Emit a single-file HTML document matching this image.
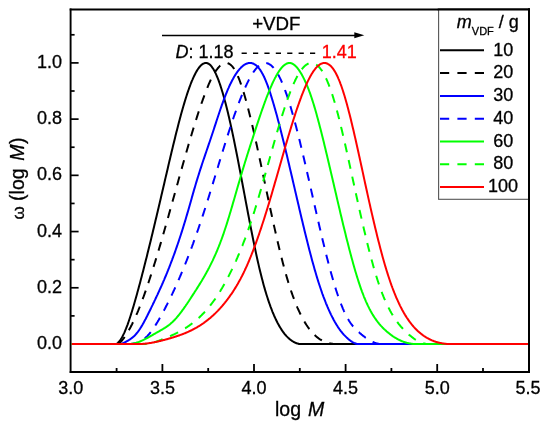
<!DOCTYPE html>
<html><head><meta charset="utf-8"><style>
html,body{margin:0;padding:0;background:#fff;}
body{width:550px;height:429px;overflow:hidden;}
svg{display:block;}
text{font-family:"Liberation Sans", Arial, "DejaVu Sans", sans-serif;fill:#000;stroke:#000;stroke-width:0.3px;}
</style></head><body>
<svg width="550" height="429" viewBox="0 0 550 429">
<rect x="0" y="0" width="550" height="429" fill="#fff"/>

<g stroke="#000" fill="none">
<line x1="70.6" y1="8.6" x2="70.6" y2="373" stroke-width="1.9"/>
<line x1="69.7" y1="9.5" x2="530" y2="9.5" stroke-width="1.9"/>
<line x1="529" y1="8.6" x2="529" y2="373" stroke-width="2"/>
<line x1="69.7" y1="372" x2="530" y2="372" stroke-width="2"/>
<line x1="70.6" y1="344.00" x2="78.6" y2="344.00" stroke-width="1.7"/>
<line x1="70.6" y1="315.89" x2="74.6" y2="315.89" stroke-width="1.7"/>
<line x1="70.6" y1="287.78" x2="78.6" y2="287.78" stroke-width="1.7"/>
<line x1="70.6" y1="259.67" x2="74.6" y2="259.67" stroke-width="1.7"/>
<line x1="70.6" y1="231.56" x2="78.6" y2="231.56" stroke-width="1.7"/>
<line x1="70.6" y1="203.45" x2="74.6" y2="203.45" stroke-width="1.7"/>
<line x1="70.6" y1="175.34" x2="78.6" y2="175.34" stroke-width="1.7"/>
<line x1="70.6" y1="147.23" x2="74.6" y2="147.23" stroke-width="1.7"/>
<line x1="70.6" y1="119.12" x2="78.6" y2="119.12" stroke-width="1.7"/>
<line x1="70.6" y1="91.01" x2="74.6" y2="91.01" stroke-width="1.7"/>
<line x1="70.6" y1="62.90" x2="78.6" y2="62.90" stroke-width="1.7"/>
<line x1="70.6" y1="34.79" x2="74.6" y2="34.79" stroke-width="1.7"/>
<line x1="116.60" y1="372" x2="116.60" y2="368" stroke-width="1.8"/>
<line x1="162.40" y1="372" x2="162.40" y2="364" stroke-width="1.8"/>
<line x1="208.20" y1="372" x2="208.20" y2="368" stroke-width="1.8"/>
<line x1="254.00" y1="372" x2="254.00" y2="364" stroke-width="1.8"/>
<line x1="299.80" y1="372" x2="299.80" y2="368" stroke-width="1.8"/>
<line x1="345.60" y1="372" x2="345.60" y2="364" stroke-width="1.8"/>
<line x1="391.40" y1="372" x2="391.40" y2="368" stroke-width="1.8"/>
<line x1="437.20" y1="372" x2="437.20" y2="364" stroke-width="1.8"/>
<line x1="483.00" y1="372" x2="483.00" y2="368" stroke-width="1.8"/>
</g>
<path d="M71.6,344.0 L116.2,344.0 L117.0,343.6 L117.5,343.2 L118.0,342.8 L118.5,342.3 L119.0,341.7 L119.5,341.1 L120.0,340.5 L120.5,339.8 L121.0,339.0 L121.5,338.2 L122.0,337.3 L122.5,336.4 L123.0,335.4 L123.5,334.4 L124.0,333.4 L124.5,332.3 L125.0,331.1 L125.5,329.9 L126.0,328.7 L126.5,327.4 L127.0,326.1 L127.5,324.8 L128.0,323.4 L128.5,322.0 L129.0,320.5 L129.5,319.0 L130.0,317.5 L130.5,316.0 L131.0,314.4 L131.5,312.8 L132.0,311.2 L132.5,309.5 L133.0,307.9 L133.5,306.2 L134.0,304.5 L134.5,302.8 L135.0,301.0 L135.5,299.3 L136.0,297.5 L136.5,295.7 L137.0,293.9 L137.5,292.1 L138.0,290.3 L138.5,288.4 L139.0,286.6 L139.5,284.7 L140.0,282.9 L140.5,281.0 L141.0,279.1 L141.5,277.2 L142.0,275.3 L142.5,273.3 L143.0,271.4 L143.5,269.5 L144.0,267.5 L144.5,265.6 L145.0,263.6 L145.5,261.6 L146.0,259.6 L146.5,257.7 L147.0,255.7 L147.5,253.6 L148.0,251.6 L148.5,249.6 L149.0,247.6 L149.5,245.5 L150.0,243.5 L150.5,241.4 L151.0,239.4 L151.5,237.3 L152.0,235.3 L152.5,233.2 L153.0,231.1 L153.5,229.0 L154.0,226.9 L154.5,224.8 L155.0,222.7 L155.5,220.6 L156.0,218.5 L156.5,216.4 L157.0,214.3 L157.5,212.2 L158.0,210.0 L158.5,207.9 L159.0,205.8 L159.5,203.7 L160.0,201.5 L160.5,199.4 L161.0,197.2 L161.5,195.1 L162.0,193.0 L162.5,190.8 L163.0,188.7 L163.5,186.5 L164.0,184.4 L164.5,182.2 L165.0,180.1 L165.5,177.9 L166.0,175.8 L166.5,173.7 L167.0,171.5 L167.5,169.4 L168.0,167.2 L168.5,165.1 L169.0,162.9 L169.5,160.8 L170.0,158.7 L170.5,156.6 L171.0,154.5 L171.5,152.3 L172.0,150.2 L172.5,148.2 L173.0,146.1 L173.5,144.0 L174.0,141.9 L174.5,139.9 L175.0,137.9 L175.5,135.8 L176.0,133.8 L176.5,131.8 L177.0,129.9 L177.5,127.9 L178.0,125.9 L178.5,124.0 L179.0,122.1 L179.5,120.2 L180.0,118.3 L180.5,116.5 L181.0,114.6 L181.5,112.8 L182.0,111.0 L182.5,109.2 L183.0,107.5 L183.5,105.8 L184.0,104.1 L184.5,102.4 L185.0,100.7 L185.5,99.1 L186.0,97.5 L186.5,96.0 L187.0,94.4 L187.5,92.9 L188.0,91.4 L188.5,90.0 L189.0,88.6 L189.5,87.2 L190.0,85.8 L190.5,84.5 L191.0,83.2 L191.5,82.0 L192.0,80.7 L192.5,79.6 L193.0,78.4 L193.5,77.3 L194.0,76.2 L194.5,75.2 L195.0,74.2 L195.5,73.2 L196.0,72.3 L196.5,71.4 L197.0,70.6 L197.5,69.8 L198.0,69.0 L198.5,68.3 L199.0,67.6 L199.5,67.0 L200.0,66.4 L200.5,65.8 L201.0,65.4 L201.5,64.9 L202.0,64.5 L202.5,64.1 L203.0,63.8 L203.5,63.6 L204.0,63.4 L204.5,63.2 L205.0,63.1 L205.5,63.0 L206.0,63.0 L206.5,63.0 L207.0,63.1 L207.5,63.3 L208.0,63.5 L208.5,63.7 L209.0,64.0 L209.5,64.4 L210.0,64.8 L210.5,65.3 L211.0,65.8 L211.5,66.4 L212.0,67.1 L212.5,67.8 L213.0,68.5 L213.5,69.3 L214.0,70.2 L214.5,71.1 L215.0,72.1 L215.5,73.1 L216.0,74.2 L216.5,75.3 L217.0,76.5 L217.5,77.7 L218.0,78.9 L218.5,80.2 L219.0,81.6 L219.5,83.0 L220.0,84.4 L220.5,85.9 L221.0,87.5 L221.5,89.0 L222.0,90.7 L222.5,92.3 L223.0,94.0 L223.5,95.8 L224.0,97.5 L224.5,99.4 L225.0,101.2 L225.5,103.1 L226.0,105.0 L226.5,107.0 L227.0,109.0 L227.5,111.0 L228.0,113.1 L228.5,115.2 L229.0,117.3 L229.5,119.5 L230.0,121.7 L230.5,123.9 L231.0,126.2 L231.5,128.5 L232.0,130.8 L232.5,133.1 L233.0,135.5 L233.5,137.9 L234.0,140.3 L234.5,142.8 L235.0,145.2 L235.5,147.7 L236.0,150.2 L236.5,152.7 L237.0,155.3 L237.5,157.8 L238.0,160.4 L238.5,163.0 L239.0,165.6 L239.5,168.2 L240.0,170.8 L240.5,173.4 L241.0,176.1 L241.5,178.7 L242.0,181.4 L242.5,184.0 L243.0,186.7 L243.5,189.3 L244.0,192.0 L244.5,194.6 L245.0,197.3 L245.5,200.0 L246.0,202.6 L246.5,205.3 L247.0,207.9 L247.5,210.5 L248.0,213.2 L248.5,215.8 L249.0,218.4 L249.5,221.0 L250.0,223.6 L250.5,226.1 L251.0,228.7 L251.5,231.2 L252.0,233.8 L252.5,236.3 L253.0,238.7 L253.5,241.2 L254.0,243.6 L254.5,246.1 L255.0,248.4 L255.5,250.8 L256.0,253.1 L256.5,255.5 L257.0,257.7 L257.5,260.0 L258.0,262.2 L258.5,264.4 L259.0,266.6 L259.5,268.7 L260.0,270.8 L260.5,272.8 L261.0,274.8 L261.5,276.8 L262.0,278.7 L262.5,280.6 L263.0,282.5 L263.5,284.4 L264.0,286.2 L264.5,287.9 L265.0,289.7 L265.5,291.4 L266.0,293.0 L266.5,294.7 L267.0,296.3 L267.5,297.8 L268.0,299.4 L268.5,300.9 L269.0,302.3 L269.5,303.8 L270.0,305.2 L270.5,306.6 L271.0,307.9 L271.5,309.2 L272.0,310.5 L272.5,311.8 L273.0,313.0 L273.5,314.2 L274.0,315.4 L274.5,316.5 L275.0,317.6 L275.5,318.7 L276.0,319.8 L276.5,320.8 L277.0,321.8 L277.5,322.8 L278.0,323.7 L278.5,324.6 L279.0,325.5 L279.5,326.4 L280.0,327.2 L280.5,328.0 L281.0,328.8 L281.5,329.6 L282.0,330.4 L282.5,331.1 L283.0,331.8 L283.5,332.5 L284.0,333.1 L284.5,333.8 L285.0,334.4 L285.5,335.0 L286.0,335.5 L286.5,336.1 L287.0,336.6 L287.5,337.1 L288.0,337.6 L288.5,338.1 L289.0,338.5 L289.5,339.0 L290.0,339.4 L290.5,339.8 L291.0,340.2 L291.5,340.5 L292.0,340.9 L292.5,341.2 L293.0,341.5 L293.5,341.8 L294.0,342.1 L294.5,342.3 L295.0,342.6 L295.5,342.8 L296.0,343.0 L296.5,343.2 L297.0,343.4 L297.5,343.5 L298.0,343.6 L298.5,343.8 L298.8,344.0 L528.0,344.0" fill="none" stroke="#000" stroke-width="2" stroke-linejoin="round"/>
<path d="M71.6,344.0 L118.5,344.0 L119.0,343.6 L119.5,343.1 L120.0,342.6 L120.5,342.1 L121.0,341.6 L121.5,341.0 L122.0,340.4 L122.5,339.8 L123.0,339.2 L123.5,338.6 L124.0,337.9 L124.5,337.2 L125.0,336.5 L125.5,335.8 L126.0,335.0 L126.5,334.2 L127.0,333.4 L127.5,332.6 L128.0,331.8 L128.5,330.9 L129.0,330.0 L129.5,329.1 L130.0,328.2 L130.5,327.3 L131.0,326.3 L131.5,325.3 L132.0,324.4 L132.5,323.3 L133.0,322.3 L133.5,321.3 L134.0,320.2 L134.5,319.1 L135.0,318.0 L135.5,316.9 L136.0,315.8 L136.5,314.6 L137.0,313.4 L137.5,312.3 L138.0,311.1 L138.5,309.8 L139.0,308.6 L139.5,307.4 L140.0,306.1 L140.5,304.8 L141.0,303.5 L141.5,302.2 L142.0,300.9 L142.5,299.6 L143.0,298.2 L143.5,296.9 L144.0,295.5 L144.5,294.1 L145.0,292.7 L145.5,291.3 L146.0,289.8 L146.5,288.4 L147.0,286.9 L147.5,285.5 L148.0,284.0 L148.5,282.5 L149.0,281.0 L149.5,279.5 L150.0,278.0 L150.5,276.4 L151.0,274.9 L151.5,273.3 L152.0,271.8 L152.5,270.2 L153.0,268.6 L153.5,267.0 L154.0,265.4 L154.5,263.8 L155.0,262.2 L155.5,260.6 L156.0,258.9 L156.5,257.3 L157.0,255.6 L157.5,254.0 L158.0,252.3 L158.5,250.6 L159.0,249.0 L159.5,247.3 L160.0,245.6 L160.5,243.9 L161.0,242.2 L161.5,240.4 L162.0,238.7 L162.5,237.0 L163.0,235.3 L163.5,233.5 L164.0,231.8 L164.5,230.0 L165.0,228.3 L165.5,226.5 L166.0,224.8 L166.5,223.0 L167.0,221.2 L167.5,219.5 L168.0,217.7 L168.5,215.9 L169.0,214.1 L169.5,212.4 L170.0,210.6 L170.5,208.8 L171.0,207.0 L171.5,205.2 L172.0,203.4 L172.5,201.6 L173.0,199.8 L173.5,198.0 L174.0,196.2 L174.5,194.4 L175.0,192.6 L175.5,190.8 L176.0,189.0 L176.5,187.3 L177.0,185.5 L177.5,183.7 L178.0,181.9 L178.5,180.1 L179.0,178.3 L179.5,176.5 L180.0,174.7 L180.5,172.9 L181.0,171.1 L181.5,169.4 L182.0,167.6 L182.5,165.8 L183.0,164.0 L183.5,162.3 L184.0,160.5 L184.5,158.7 L185.0,157.0 L185.5,155.2 L186.0,153.5 L186.5,151.7 L187.0,150.0 L187.5,148.3 L188.0,146.6 L188.5,144.8 L189.0,143.1 L189.5,141.4 L190.0,139.7 L190.5,138.0 L191.0,136.4 L191.5,134.7 L192.0,133.0 L192.5,131.4 L193.0,129.7 L193.5,128.1 L194.0,126.5 L194.5,124.9 L195.0,123.2 L195.5,121.7 L196.0,120.1 L196.5,118.5 L197.0,116.9 L197.5,115.4 L198.0,113.8 L198.5,112.3 L199.0,110.8 L199.5,109.3 L200.0,107.8 L200.5,106.3 L201.0,104.9 L201.5,103.4 L202.0,102.0 L202.5,100.6 L203.0,99.2 L203.5,97.8 L204.0,96.4 L204.5,95.1 L205.0,93.8 L205.5,92.4 L206.0,91.1 L206.5,89.8 L207.0,88.6 L207.5,87.3 L208.0,86.1 L208.5,84.9 L209.0,83.7 L209.5,82.6 L210.0,81.5 L210.5,80.4 L211.0,79.3 L211.5,78.3 L212.0,77.3 L212.5,76.4 L213.0,75.5 L213.5,74.6 L214.0,73.7 L214.5,72.9 L215.0,72.1 L215.5,71.3 L216.0,70.6 L216.5,69.9 L217.0,69.3 L217.5,68.6 L218.0,68.0 L218.5,67.5 L219.0,66.9 L219.5,66.4 L220.0,65.9 L220.5,65.5 L221.0,65.1 L221.5,64.7 L222.0,64.4 L222.5,64.1 L223.0,63.8 L223.5,63.6 L224.0,63.4 L224.5,63.2 L225.0,63.1 L225.5,63.0 L226.0,63.0 L226.5,63.0 L227.0,63.1 L227.5,63.1 L228.0,63.3 L228.5,63.5 L229.0,63.7 L229.5,64.0 L230.0,64.3 L230.5,64.7 L231.0,65.1 L231.5,65.6 L232.0,66.1 L232.5,66.7 L233.0,67.3 L233.5,68.0 L234.0,68.7 L234.5,69.5 L235.0,70.4 L235.5,71.3 L236.0,72.2 L236.5,73.2 L237.0,74.3 L237.5,75.4 L238.0,76.5 L238.5,77.7 L239.0,78.9 L239.5,80.2 L240.0,81.5 L240.5,82.9 L241.0,84.3 L241.5,85.8 L242.0,87.3 L242.5,88.8 L243.0,90.4 L243.5,92.0 L244.0,93.6 L244.5,95.3 L245.0,97.0 L245.5,98.8 L246.0,100.5 L246.5,102.4 L247.0,104.2 L247.5,106.1 L248.0,108.0 L248.5,109.9 L249.0,111.9 L249.5,113.9 L250.0,115.9 L250.5,117.9 L251.0,120.0 L251.5,122.1 L252.0,124.2 L252.5,126.3 L253.0,128.4 L253.5,130.6 L254.0,132.8 L254.5,135.0 L255.0,137.2 L255.5,139.5 L256.0,141.7 L256.5,144.0 L257.0,146.3 L257.5,148.6 L258.0,150.9 L258.5,153.2 L259.0,155.5 L259.5,157.8 L260.0,160.2 L260.5,162.5 L261.0,164.9 L261.5,167.2 L262.0,169.6 L262.5,172.0 L263.0,174.3 L263.5,176.7 L264.0,179.1 L264.5,181.4 L265.0,183.8 L265.5,186.2 L266.0,188.6 L266.5,190.9 L267.0,193.3 L267.5,195.6 L268.0,198.0 L268.5,200.3 L269.0,202.7 L269.5,205.0 L270.0,207.3 L270.5,209.7 L271.0,212.0 L271.5,214.3 L272.0,216.6 L272.5,218.9 L273.0,221.1 L273.5,223.4 L274.0,225.7 L274.5,227.9 L275.0,230.1 L275.5,232.3 L276.0,234.5 L276.5,236.7 L277.0,238.9 L277.5,241.0 L278.0,243.2 L278.5,245.3 L279.0,247.4 L279.5,249.4 L280.0,251.5 L280.5,253.5 L281.0,255.6 L281.5,257.6 L282.0,259.5 L282.5,261.5 L283.0,263.4 L283.5,265.3 L284.0,267.2 L284.5,269.0 L285.0,270.9 L285.5,272.7 L286.0,274.4 L286.5,276.2 L287.0,277.9 L287.5,279.6 L288.0,281.3 L288.5,282.9 L289.0,284.5 L289.5,286.1 L290.0,287.6 L290.5,289.2 L291.0,290.7 L291.5,292.1 L292.0,293.6 L292.5,295.0 L293.0,296.4 L293.5,297.7 L294.0,299.1 L294.5,300.4 L295.0,301.7 L295.5,303.0 L296.0,304.2 L296.5,305.4 L297.0,306.6 L297.5,307.8 L298.0,308.9 L298.5,310.0 L299.0,311.1 L299.5,312.2 L300.0,313.3 L300.5,314.3 L301.0,315.3 L301.5,316.3 L302.0,317.2 L302.5,318.2 L303.0,319.1 L303.5,320.0 L304.0,320.9 L304.5,321.7 L305.0,322.6 L305.5,323.4 L306.0,324.2 L306.5,325.0 L307.0,325.7 L307.5,326.5 L308.0,327.2 L308.5,327.9 L309.0,328.6 L309.5,329.2 L310.0,329.9 L310.5,330.5 L311.0,331.1 L311.5,331.7 L312.0,332.3 L312.5,332.8 L313.0,333.4 L313.5,333.9 L314.0,334.4 L314.5,334.9 L315.0,335.4 L315.5,335.8 L316.0,336.3 L316.5,336.7 L317.0,337.1 L317.5,337.5 L318.0,337.9 L318.5,338.3 L319.0,338.6 L319.5,339.0 L320.0,339.3 L320.5,339.6 L321.0,339.9 L321.5,340.2 L322.0,340.5 L322.5,340.7 L323.0,341.0 L323.5,341.2 L324.0,341.5 L324.5,341.7 L325.0,341.9 L325.5,342.1 L326.0,342.3 L326.5,342.5 L327.0,342.6 L327.5,342.8 L328.0,342.9 L328.5,343.1 L329.0,343.2 L329.5,343.3 L330.0,343.4 L330.5,343.5 L331.0,343.6 L331.5,343.7 L332.0,343.7 L332.5,343.8 L333.0,344.0 L528.0,344.0" fill="none" stroke="#000" stroke-width="2" stroke-linejoin="round" stroke-dasharray="9 8" stroke-dashoffset="3.71"/>
<path d="M71.6,344.0 L121.5,344.0 L122.0,343.7 L122.5,343.5 L123.0,343.2 L123.5,343.0 L124.0,342.8 L124.5,342.5 L125.0,342.3 L125.5,342.0 L126.0,341.7 L126.5,341.5 L127.0,341.2 L127.5,340.9 L128.0,340.6 L128.5,340.3 L129.0,340.0 L129.5,339.7 L130.0,339.4 L130.5,339.0 L131.0,338.7 L131.5,338.3 L132.0,337.9 L132.5,337.5 L133.0,337.1 L133.5,336.6 L134.0,336.2 L134.5,335.7 L135.0,335.2 L135.5,334.7 L136.0,334.1 L136.5,333.5 L137.0,332.9 L137.5,332.3 L138.0,331.7 L138.5,331.0 L139.0,330.3 L139.5,329.5 L140.0,328.8 L140.5,328.0 L141.0,327.2 L141.5,326.4 L142.0,325.5 L142.5,324.7 L143.0,323.8 L143.5,322.9 L144.0,322.0 L144.5,321.1 L145.0,320.1 L145.5,319.2 L146.0,318.2 L146.5,317.2 L147.0,316.3 L147.5,315.3 L148.0,314.3 L148.5,313.3 L149.0,312.2 L149.5,311.2 L150.0,310.2 L150.5,309.2 L151.0,308.2 L151.5,307.1 L152.0,306.1 L152.5,305.1 L153.0,304.0 L153.5,303.0 L154.0,302.0 L154.5,300.9 L155.0,299.9 L155.5,298.8 L156.0,297.8 L156.5,296.7 L157.0,295.6 L157.5,294.6 L158.0,293.5 L158.5,292.4 L159.0,291.3 L159.5,290.2 L160.0,289.1 L160.5,288.0 L161.0,286.9 L161.5,285.8 L162.0,284.7 L162.5,283.5 L163.0,282.4 L163.5,281.2 L164.0,280.1 L164.5,278.9 L165.0,277.7 L165.5,276.5 L166.0,275.3 L166.5,274.1 L167.0,272.9 L167.5,271.6 L168.0,270.4 L168.5,269.1 L169.0,267.9 L169.5,266.6 L170.0,265.3 L170.5,264.0 L171.0,262.7 L171.5,261.4 L172.0,260.1 L172.5,258.7 L173.0,257.4 L173.5,256.0 L174.0,254.7 L174.5,253.3 L175.0,251.9 L175.5,250.5 L176.0,249.0 L176.5,247.6 L177.0,246.2 L177.5,244.7 L178.0,243.2 L178.5,241.8 L179.0,240.3 L179.5,238.8 L180.0,237.2 L180.5,235.7 L181.0,234.2 L181.5,232.6 L182.0,231.1 L182.5,229.5 L183.0,227.9 L183.5,226.3 L184.0,224.6 L184.5,223.0 L185.0,221.4 L185.5,219.7 L186.0,218.0 L186.5,216.3 L187.0,214.6 L187.5,212.9 L188.0,211.2 L188.5,209.5 L189.0,207.7 L189.5,205.9 L190.0,204.2 L190.5,202.4 L191.0,200.7 L191.5,198.9 L192.0,197.1 L192.5,195.4 L193.0,193.6 L193.5,191.9 L194.0,190.1 L194.5,188.4 L195.0,186.7 L195.5,185.0 L196.0,183.3 L196.5,181.6 L197.0,180.0 L197.5,178.4 L198.0,176.8 L198.5,175.2 L199.0,173.6 L199.5,172.0 L200.0,170.4 L200.5,168.9 L201.0,167.4 L201.5,165.9 L202.0,164.3 L202.5,162.8 L203.0,161.3 L203.5,159.8 L204.0,158.4 L204.5,156.9 L205.0,155.4 L205.5,153.9 L206.0,152.5 L206.5,151.0 L207.0,149.5 L207.5,148.1 L208.0,146.6 L208.5,145.1 L209.0,143.7 L209.5,142.2 L210.0,140.7 L210.5,139.2 L211.0,137.7 L211.5,136.2 L212.0,134.7 L212.5,133.2 L213.0,131.7 L213.5,130.2 L214.0,128.7 L214.5,127.1 L215.0,125.6 L215.5,124.1 L216.0,122.6 L216.5,121.0 L217.0,119.5 L217.5,118.0 L218.0,116.5 L218.5,115.0 L219.0,113.5 L219.5,112.0 L220.0,110.5 L220.5,109.0 L221.0,107.6 L221.5,106.1 L222.0,104.7 L222.5,103.3 L223.0,101.9 L223.5,100.5 L224.0,99.2 L224.5,97.9 L225.0,96.6 L225.5,95.3 L226.0,94.0 L226.5,92.8 L227.0,91.6 L227.5,90.4 L228.0,89.2 L228.5,88.1 L229.0,86.9 L229.5,85.8 L230.0,84.8 L230.5,83.7 L231.0,82.7 L231.5,81.7 L232.0,80.7 L232.5,79.8 L233.0,78.9 L233.5,78.0 L234.0,77.1 L234.5,76.2 L235.0,75.4 L235.5,74.6 L236.0,73.8 L236.5,73.1 L237.0,72.4 L237.5,71.7 L238.0,71.0 L238.5,70.4 L239.0,69.8 L239.5,69.2 L240.0,68.6 L240.5,68.1 L241.0,67.5 L241.5,67.1 L242.0,66.6 L242.5,66.2 L243.0,65.8 L243.5,65.4 L244.0,65.0 L244.5,64.7 L245.0,64.4 L245.5,64.2 L246.0,63.9 L246.5,63.7 L247.0,63.5 L247.5,63.4 L248.0,63.2 L248.5,63.1 L249.0,63.1 L249.5,63.0 L250.0,63.0 L250.5,63.0 L251.0,63.1 L251.5,63.1 L252.0,63.2 L252.5,63.4 L253.0,63.5 L253.5,63.7 L254.0,64.0 L254.5,64.3 L255.0,64.6 L255.5,64.9 L256.0,65.3 L256.5,65.7 L257.0,66.1 L257.5,66.6 L258.0,67.2 L258.5,67.7 L259.0,68.3 L259.5,69.0 L260.0,69.7 L260.5,70.4 L261.0,71.2 L261.5,72.0 L262.0,72.9 L262.5,73.8 L263.0,74.7 L263.5,75.7 L264.0,76.8 L264.5,77.8 L265.0,79.0 L265.5,80.2 L266.0,81.4 L266.5,82.6 L267.0,83.9 L267.5,85.2 L268.0,86.6 L268.5,88.0 L269.0,89.4 L269.5,90.9 L270.0,92.4 L270.5,93.9 L271.0,95.5 L271.5,97.1 L272.0,98.7 L272.5,100.4 L273.0,102.0 L273.5,103.7 L274.0,105.4 L274.5,107.2 L275.0,108.9 L275.5,110.7 L276.0,112.5 L276.5,114.3 L277.0,116.1 L277.5,118.0 L278.0,119.9 L278.5,121.7 L279.0,123.6 L279.5,125.6 L280.0,127.5 L280.5,129.4 L281.0,131.4 L281.5,133.4 L282.0,135.4 L282.5,137.4 L283.0,139.4 L283.5,141.4 L284.0,143.4 L284.5,145.5 L285.0,147.5 L285.5,149.6 L286.0,151.7 L286.5,153.8 L287.0,155.8 L287.5,157.9 L288.0,160.1 L288.5,162.2 L289.0,164.3 L289.5,166.4 L290.0,168.6 L290.5,170.7 L291.0,172.8 L291.5,175.0 L292.0,177.1 L292.5,179.3 L293.0,181.4 L293.5,183.6 L294.0,185.7 L294.5,187.9 L295.0,190.1 L295.5,192.2 L296.0,194.4 L296.5,196.5 L297.0,198.7 L297.5,200.8 L298.0,203.0 L298.5,205.1 L299.0,207.3 L299.5,209.4 L300.0,211.5 L300.5,213.7 L301.0,215.8 L301.5,217.9 L302.0,220.0 L302.5,222.1 L303.0,224.2 L303.5,226.3 L304.0,228.3 L304.5,230.4 L305.0,232.5 L305.5,234.5 L306.0,236.5 L306.5,238.6 L307.0,240.6 L307.5,242.6 L308.0,244.5 L308.5,246.5 L309.0,248.5 L309.5,250.4 L310.0,252.3 L310.5,254.2 L311.0,256.1 L311.5,258.0 L312.0,259.9 L312.5,261.7 L313.0,263.5 L313.5,265.3 L314.0,267.1 L314.5,268.9 L315.0,270.6 L315.5,272.3 L316.0,274.0 L316.5,275.7 L317.0,277.4 L317.5,279.0 L318.0,280.6 L318.5,282.2 L319.0,283.8 L319.5,285.3 L320.0,286.8 L320.5,288.3 L321.0,289.8 L321.5,291.2 L322.0,292.7 L322.5,294.1 L323.0,295.4 L323.5,296.8 L324.0,298.1 L324.5,299.4 L325.0,300.7 L325.5,302.0 L326.0,303.3 L326.5,304.5 L327.0,305.7 L327.5,306.9 L328.0,308.0 L328.5,309.2 L329.0,310.3 L329.5,311.4 L330.0,312.5 L330.5,313.5 L331.0,314.6 L331.5,315.6 L332.0,316.6 L332.5,317.6 L333.0,318.5 L333.5,319.5 L334.0,320.4 L334.5,321.3 L335.0,322.2 L335.5,323.0 L336.0,323.9 L336.5,324.7 L337.0,325.5 L337.5,326.3 L338.0,327.1 L338.5,327.8 L339.0,328.5 L339.5,329.3 L340.0,330.0 L340.5,330.6 L341.0,331.3 L341.5,331.9 L342.0,332.5 L342.5,333.2 L343.0,333.7 L343.5,334.3 L344.0,334.9 L344.5,335.4 L345.0,335.9 L345.5,336.4 L346.0,336.9 L346.5,337.4 L347.0,337.9 L347.5,338.3 L348.0,338.8 L348.5,339.2 L349.0,339.6 L349.5,340.0 L350.0,340.4 L350.5,340.7 L351.0,341.1 L351.5,341.4 L352.0,341.8 L352.5,342.1 L353.0,342.4 L353.5,342.6 L354.0,342.9 L354.5,343.1 L355.0,343.3 L355.5,343.5 L356.0,343.7 L356.5,343.8 L357.0,344.0 L528.0,344.0" fill="none" stroke="#00f" stroke-width="2" stroke-linejoin="round"/>
<path d="M71.6,344.0 L131.0,344.0 L131.0,343.9 L131.5,343.9 L132.0,343.8 L132.5,343.7 L133.0,343.7 L133.5,343.6 L134.0,343.5 L134.5,343.4 L135.0,343.3 L135.5,343.1 L136.0,343.0 L136.5,342.9 L137.0,342.7 L137.5,342.5 L138.0,342.3 L138.5,342.1 L139.0,341.9 L139.5,341.7 L140.0,341.5 L140.5,341.2 L141.0,340.9 L141.5,340.7 L142.0,340.4 L142.5,340.0 L143.0,339.7 L143.5,339.4 L144.0,339.0 L144.5,338.6 L145.0,338.2 L145.5,337.8 L146.0,337.3 L146.5,336.9 L147.0,336.4 L147.5,335.9 L148.0,335.3 L148.5,334.8 L149.0,334.2 L149.5,333.6 L150.0,333.0 L150.5,332.4 L151.0,331.8 L151.5,331.1 L152.0,330.4 L152.5,329.7 L153.0,329.0 L153.5,328.3 L154.0,327.5 L154.5,326.8 L155.0,326.0 L155.5,325.2 L156.0,324.4 L156.5,323.6 L157.0,322.8 L157.5,322.0 L158.0,321.1 L158.5,320.3 L159.0,319.4 L159.5,318.5 L160.0,317.7 L160.5,316.8 L161.0,315.9 L161.5,315.0 L162.0,314.1 L162.5,313.1 L163.0,312.2 L163.5,311.3 L164.0,310.4 L164.5,309.4 L165.0,308.5 L165.5,307.5 L166.0,306.5 L166.5,305.6 L167.0,304.6 L167.5,303.6 L168.0,302.6 L168.5,301.6 L169.0,300.6 L169.5,299.6 L170.0,298.6 L170.5,297.6 L171.0,296.5 L171.5,295.5 L172.0,294.4 L172.5,293.4 L173.0,292.3 L173.5,291.2 L174.0,290.2 L174.5,289.1 L175.0,288.0 L175.5,286.9 L176.0,285.8 L176.5,284.7 L177.0,283.5 L177.5,282.4 L178.0,281.3 L178.5,280.1 L179.0,279.0 L179.5,277.8 L180.0,276.7 L180.5,275.5 L181.0,274.3 L181.5,273.1 L182.0,271.9 L182.5,270.7 L183.0,269.5 L183.5,268.3 L184.0,267.1 L184.5,265.9 L185.0,264.6 L185.5,263.4 L186.0,262.1 L186.5,260.9 L187.0,259.6 L187.5,258.3 L188.0,257.0 L188.5,255.7 L189.0,254.4 L189.5,253.1 L190.0,251.8 L190.5,250.5 L191.0,249.2 L191.5,247.8 L192.0,246.5 L192.5,245.1 L193.0,243.8 L193.5,242.4 L194.0,241.0 L194.5,239.6 L195.0,238.2 L195.5,236.8 L196.0,235.4 L196.5,234.0 L197.0,232.6 L197.5,231.2 L198.0,229.7 L198.5,228.3 L199.0,226.8 L199.5,225.4 L200.0,223.9 L200.5,222.4 L201.0,220.9 L201.5,219.4 L202.0,217.9 L202.5,216.4 L203.0,214.9 L203.5,213.4 L204.0,211.8 L204.5,210.3 L205.0,208.7 L205.5,207.2 L206.0,205.6 L206.5,204.0 L207.0,202.4 L207.5,200.9 L208.0,199.3 L208.5,197.7 L209.0,196.1 L209.5,194.5 L210.0,192.8 L210.5,191.2 L211.0,189.6 L211.5,188.0 L212.0,186.3 L212.5,184.7 L213.0,183.1 L213.5,181.4 L214.0,179.8 L214.5,178.2 L215.0,176.5 L215.5,174.9 L216.0,173.2 L216.5,171.6 L217.0,169.9 L217.5,168.3 L218.0,166.7 L218.5,165.0 L219.0,163.4 L219.5,161.7 L220.0,160.1 L220.5,158.5 L221.0,156.8 L221.5,155.2 L222.0,153.6 L222.5,151.9 L223.0,150.3 L223.5,148.7 L224.0,147.1 L224.5,145.5 L225.0,143.9 L225.5,142.3 L226.0,140.7 L226.5,139.1 L227.0,137.5 L227.5,136.0 L228.0,134.4 L228.5,132.9 L229.0,131.3 L229.5,129.8 L230.0,128.2 L230.5,126.7 L231.0,125.2 L231.5,123.7 L232.0,122.2 L232.5,120.7 L233.0,119.3 L233.5,117.8 L234.0,116.3 L234.5,114.9 L235.0,113.5 L235.5,112.1 L236.0,110.7 L236.5,109.3 L237.0,107.9 L237.5,106.5 L238.0,105.2 L238.5,103.8 L239.0,102.5 L239.5,101.2 L240.0,99.9 L240.5,98.6 L241.0,97.4 L241.5,96.1 L242.0,94.9 L242.5,93.7 L243.0,92.5 L243.5,91.3 L244.0,90.2 L244.5,89.0 L245.0,87.9 L245.5,86.8 L246.0,85.7 L246.5,84.7 L247.0,83.6 L247.5,82.6 L248.0,81.6 L248.5,80.6 L249.0,79.6 L249.5,78.7 L250.0,77.8 L250.5,76.9 L251.0,76.0 L251.5,75.2 L252.0,74.4 L252.5,73.6 L253.0,72.8 L253.5,72.0 L254.0,71.3 L254.5,70.6 L255.0,70.0 L255.5,69.3 L256.0,68.7 L256.5,68.1 L257.0,67.6 L257.5,67.1 L258.0,66.6 L258.5,66.1 L259.0,65.7 L259.5,65.3 L260.0,64.9 L260.5,64.5 L261.0,64.2 L261.5,64.0 L262.0,63.7 L262.5,63.5 L263.0,63.3 L263.5,63.2 L264.0,63.1 L264.5,63.0 L265.0,63.0 L265.5,63.0 L266.0,63.0 L266.5,63.1 L267.0,63.2 L267.5,63.4 L268.0,63.5 L268.5,63.7 L269.0,64.0 L269.5,64.3 L270.0,64.6 L270.5,64.9 L271.0,65.3 L271.5,65.7 L272.0,66.2 L272.5,66.7 L273.0,67.2 L273.5,67.8 L274.0,68.3 L274.5,69.0 L275.0,69.6 L275.5,70.3 L276.0,71.1 L276.5,71.8 L277.0,72.6 L277.5,73.4 L278.0,74.3 L278.5,75.2 L279.0,76.1 L279.5,77.1 L280.0,78.1 L280.5,79.1 L281.0,80.2 L281.5,81.3 L282.0,82.5 L282.5,83.6 L283.0,84.8 L283.5,86.1 L284.0,87.3 L284.5,88.7 L285.0,90.0 L285.5,91.4 L286.0,92.8 L286.5,94.2 L287.0,95.6 L287.5,97.1 L288.0,98.7 L288.5,100.2 L289.0,101.8 L289.5,103.4 L290.0,105.0 L290.5,106.6 L291.0,108.3 L291.5,110.0 L292.0,111.8 L292.5,113.5 L293.0,115.3 L293.5,117.1 L294.0,118.9 L294.5,120.7 L295.0,122.6 L295.5,124.5 L296.0,126.3 L296.5,128.3 L297.0,130.2 L297.5,132.1 L298.0,134.1 L298.5,136.1 L299.0,138.1 L299.5,140.1 L300.0,142.1 L300.5,144.2 L301.0,146.2 L301.5,148.3 L302.0,150.4 L302.5,152.5 L303.0,154.6 L303.5,156.7 L304.0,158.8 L304.5,161.0 L305.0,163.1 L305.5,165.3 L306.0,167.4 L306.5,169.6 L307.0,171.8 L307.5,174.0 L308.0,176.2 L308.5,178.3 L309.0,180.5 L309.5,182.7 L310.0,184.9 L310.5,187.2 L311.0,189.4 L311.5,191.6 L312.0,193.8 L312.5,196.0 L313.0,198.2 L313.5,200.4 L314.0,202.6 L314.5,204.8 L315.0,207.0 L315.5,209.2 L316.0,211.4 L316.5,213.6 L317.0,215.8 L317.5,218.0 L318.0,220.2 L318.5,222.3 L319.0,224.5 L319.5,226.7 L320.0,228.8 L320.5,230.9 L321.0,233.1 L321.5,235.2 L322.0,237.3 L322.5,239.4 L323.0,241.5 L323.5,243.6 L324.0,245.6 L324.5,247.7 L325.0,249.7 L325.5,251.7 L326.0,253.7 L326.5,255.7 L327.0,257.7 L327.5,259.6 L328.0,261.6 L328.5,263.5 L329.0,265.4 L329.5,267.2 L330.0,269.1 L330.5,270.9 L331.0,272.8 L331.5,274.6 L332.0,276.3 L332.5,278.1 L333.0,279.8 L333.5,281.5 L334.0,283.2 L334.5,284.9 L335.0,286.5 L335.5,288.1 L336.0,289.7 L336.5,291.2 L337.0,292.7 L337.5,294.2 L338.0,295.7 L338.5,297.1 L339.0,298.5 L339.5,299.9 L340.0,301.3 L340.5,302.6 L341.0,303.9 L341.5,305.2 L342.0,306.4 L342.5,307.6 L343.0,308.8 L343.5,309.9 L344.0,311.1 L344.5,312.2 L345.0,313.2 L345.5,314.3 L346.0,315.3 L346.5,316.2 L347.0,317.2 L347.5,318.1 L348.0,319.0 L348.5,319.8 L349.0,320.7 L349.5,321.5 L350.0,322.2 L350.5,323.0 L351.0,323.7 L351.5,324.3 L352.0,325.0 L352.5,325.6 L353.0,326.3 L353.5,326.8 L354.0,327.4 L354.5,328.0 L355.0,328.5 L355.5,329.0 L356.0,329.5 L356.5,330.0 L357.0,330.5 L357.5,331.0 L358.0,331.4 L358.5,331.9 L359.0,332.3 L359.5,332.8 L360.0,333.2 L360.5,333.6 L361.0,334.0 L361.5,334.5 L362.0,334.9 L362.5,335.3 L363.0,335.7 L363.5,336.1 L364.0,336.4 L364.5,336.8 L365.0,337.2 L365.5,337.6 L366.0,337.9 L366.5,338.3 L367.0,338.6 L367.5,338.9 L368.0,339.3 L368.5,339.6 L369.0,339.9 L369.5,340.2 L370.0,340.5 L370.5,340.8 L371.0,341.0 L371.5,341.3 L372.0,341.5 L372.5,341.8 L373.0,342.0 L373.5,342.3 L374.0,342.5 L374.5,342.7 L375.0,342.9 L375.5,343.0 L376.0,343.2 L376.5,343.4 L377.0,343.5 L377.5,343.6 L378.0,343.7 L378.5,343.8 L379.0,344.0 L528.0,344.0" fill="none" stroke="#00f" stroke-width="2" stroke-linejoin="round" stroke-dasharray="9 8" stroke-dashoffset="10.67"/>
<path d="M71.6,344.0 L131.0,344.0 L131.0,343.9 L131.5,343.8 L132.0,343.8 L132.5,343.7 L133.0,343.6 L133.5,343.5 L134.0,343.4 L134.5,343.3 L135.0,343.2 L135.5,343.1 L136.0,342.9 L136.5,342.8 L137.0,342.6 L137.5,342.4 L138.0,342.3 L138.5,342.1 L139.0,341.9 L139.5,341.7 L140.0,341.5 L140.5,341.3 L141.0,341.0 L141.5,340.8 L142.0,340.6 L142.5,340.4 L143.0,340.1 L143.5,339.9 L144.0,339.6 L144.5,339.4 L145.0,339.1 L145.5,338.9 L146.0,338.6 L146.5,338.4 L147.0,338.1 L147.5,337.8 L148.0,337.6 L148.5,337.3 L149.0,337.0 L149.5,336.7 L150.0,336.5 L150.5,336.2 L151.0,335.9 L151.5,335.6 L152.0,335.3 L152.5,335.0 L153.0,334.7 L153.5,334.5 L154.0,334.2 L154.5,333.9 L155.0,333.6 L155.5,333.3 L156.0,333.0 L156.5,332.7 L157.0,332.4 L157.5,332.2 L158.0,331.9 L158.5,331.6 L159.0,331.3 L159.5,331.0 L160.0,330.7 L160.5,330.5 L161.0,330.2 L161.5,329.9 L162.0,329.6 L162.5,329.3 L163.0,329.0 L163.5,328.7 L164.0,328.4 L164.5,328.1 L165.0,327.8 L165.5,327.4 L166.0,327.1 L166.5,326.8 L167.0,326.4 L167.5,326.1 L168.0,325.7 L168.5,325.3 L169.0,325.0 L169.5,324.6 L170.0,324.2 L170.5,323.8 L171.0,323.3 L171.5,322.9 L172.0,322.4 L172.5,322.0 L173.0,321.5 L173.5,321.0 L174.0,320.5 L174.5,320.0 L175.0,319.5 L175.5,318.9 L176.0,318.4 L176.5,317.8 L177.0,317.2 L177.5,316.6 L178.0,316.0 L178.5,315.4 L179.0,314.8 L179.5,314.2 L180.0,313.5 L180.5,312.9 L181.0,312.2 L181.5,311.6 L182.0,310.9 L182.5,310.2 L183.0,309.5 L183.5,308.8 L184.0,308.1 L184.5,307.4 L185.0,306.7 L185.5,306.0 L186.0,305.2 L186.5,304.5 L187.0,303.8 L187.5,303.0 L188.0,302.3 L188.5,301.5 L189.0,300.8 L189.5,300.0 L190.0,299.2 L190.5,298.5 L191.0,297.7 L191.5,296.9 L192.0,296.2 L192.5,295.4 L193.0,294.6 L193.5,293.8 L194.0,293.1 L194.5,292.3 L195.0,291.5 L195.5,290.7 L196.0,290.0 L196.5,289.2 L197.0,288.4 L197.5,287.6 L198.0,286.8 L198.5,286.0 L199.0,285.2 L199.5,284.4 L200.0,283.6 L200.5,282.8 L201.0,282.0 L201.5,281.2 L202.0,280.3 L202.5,279.5 L203.0,278.6 L203.5,277.8 L204.0,276.9 L204.5,276.1 L205.0,275.2 L205.5,274.3 L206.0,273.4 L206.5,272.5 L207.0,271.6 L207.5,270.7 L208.0,269.8 L208.5,268.8 L209.0,267.9 L209.5,266.9 L210.0,265.9 L210.5,264.9 L211.0,263.9 L211.5,262.9 L212.0,261.9 L212.5,260.9 L213.0,259.8 L213.5,258.7 L214.0,257.6 L214.5,256.5 L215.0,255.4 L215.5,254.3 L216.0,253.2 L216.5,252.0 L217.0,250.8 L217.5,249.6 L218.0,248.4 L218.5,247.2 L219.0,245.9 L219.5,244.6 L220.0,243.4 L220.5,242.0 L221.0,240.7 L221.5,239.4 L222.0,238.0 L222.5,236.6 L223.0,235.2 L223.5,233.8 L224.0,232.3 L224.5,230.8 L225.0,229.3 L225.5,227.8 L226.0,226.3 L226.5,224.7 L227.0,223.1 L227.5,221.5 L228.0,219.9 L228.5,218.3 L229.0,216.7 L229.5,215.0 L230.0,213.3 L230.5,211.7 L231.0,210.0 L231.5,208.3 L232.0,206.6 L232.5,204.9 L233.0,203.1 L233.5,201.4 L234.0,199.7 L234.5,198.0 L235.0,196.2 L235.5,194.5 L236.0,192.7 L236.5,191.0 L237.0,189.3 L237.5,187.5 L238.0,185.8 L238.5,184.1 L239.0,182.4 L239.5,180.7 L240.0,178.9 L240.5,177.2 L241.0,175.6 L241.5,173.9 L242.0,172.2 L242.5,170.5 L243.0,168.9 L243.5,167.2 L244.0,165.6 L244.5,164.0 L245.0,162.3 L245.5,160.7 L246.0,159.1 L246.5,157.5 L247.0,155.9 L247.5,154.3 L248.0,152.7 L248.5,151.1 L249.0,149.6 L249.5,148.0 L250.0,146.4 L250.5,144.9 L251.0,143.3 L251.5,141.8 L252.0,140.2 L252.5,138.7 L253.0,137.1 L253.5,135.6 L254.0,134.0 L254.5,132.5 L255.0,131.0 L255.5,129.4 L256.0,127.9 L256.5,126.4 L257.0,124.9 L257.5,123.4 L258.0,121.9 L258.5,120.4 L259.0,118.9 L259.5,117.4 L260.0,115.9 L260.5,114.5 L261.0,113.0 L261.5,111.5 L262.0,110.1 L262.5,108.7 L263.0,107.3 L263.5,105.9 L264.0,104.5 L264.5,103.1 L265.0,101.7 L265.5,100.4 L266.0,99.0 L266.5,97.7 L267.0,96.4 L267.5,95.1 L268.0,93.9 L268.5,92.6 L269.0,91.4 L269.5,90.1 L270.0,88.9 L270.5,87.8 L271.0,86.6 L271.5,85.5 L272.0,84.3 L272.5,83.3 L273.0,82.2 L273.5,81.1 L274.0,80.1 L274.5,79.1 L275.0,78.1 L275.5,77.2 L276.0,76.2 L276.5,75.3 L277.0,74.5 L277.5,73.6 L278.0,72.8 L278.5,72.0 L279.0,71.2 L279.5,70.5 L280.0,69.8 L280.5,69.1 L281.0,68.5 L281.5,67.9 L282.0,67.3 L282.5,66.8 L283.0,66.3 L283.5,65.8 L284.0,65.4 L284.5,65.0 L285.0,64.6 L285.5,64.3 L286.0,64.0 L286.5,63.7 L287.0,63.5 L287.5,63.3 L288.0,63.2 L288.5,63.1 L289.0,63.0 L289.5,63.0 L290.0,63.0 L290.5,63.1 L291.0,63.2 L291.5,63.3 L292.0,63.5 L292.5,63.8 L293.0,64.0 L293.5,64.3 L294.0,64.7 L294.5,65.1 L295.0,65.5 L295.5,66.0 L296.0,66.4 L296.5,67.0 L297.0,67.5 L297.5,68.1 L298.0,68.8 L298.5,69.5 L299.0,70.2 L299.5,70.9 L300.0,71.7 L300.5,72.5 L301.0,73.3 L301.5,74.1 L302.0,75.0 L302.5,75.9 L303.0,76.9 L303.5,77.9 L304.0,78.9 L304.5,79.9 L305.0,81.0 L305.5,82.1 L306.0,83.2 L306.5,84.3 L307.0,85.5 L307.5,86.7 L308.0,87.9 L308.5,89.2 L309.0,90.5 L309.5,91.8 L310.0,93.2 L310.5,94.6 L311.0,96.1 L311.5,97.5 L312.0,99.1 L312.5,100.6 L313.0,102.2 L313.5,103.8 L314.0,105.4 L314.5,107.1 L315.0,108.8 L315.5,110.5 L316.0,112.3 L316.5,114.1 L317.0,115.9 L317.5,117.7 L318.0,119.6 L318.5,121.4 L319.0,123.3 L319.5,125.2 L320.0,127.2 L320.5,129.1 L321.0,131.1 L321.5,133.1 L322.0,135.0 L322.5,137.0 L323.0,139.1 L323.5,141.1 L324.0,143.1 L324.5,145.2 L325.0,147.2 L325.5,149.3 L326.0,151.4 L326.5,153.5 L327.0,155.6 L327.5,157.7 L328.0,159.8 L328.5,161.9 L329.0,164.0 L329.5,166.2 L330.0,168.3 L330.5,170.4 L331.0,172.6 L331.5,174.7 L332.0,176.9 L332.5,179.0 L333.0,181.2 L333.5,183.3 L334.0,185.5 L334.5,187.7 L335.0,189.8 L335.5,192.0 L336.0,194.1 L336.5,196.3 L337.0,198.4 L337.5,200.6 L338.0,202.7 L338.5,204.9 L339.0,207.0 L339.5,209.1 L340.0,211.3 L340.5,213.4 L341.0,215.5 L341.5,217.6 L342.0,219.7 L342.5,221.8 L343.0,223.9 L343.5,225.9 L344.0,228.0 L344.5,230.1 L345.0,232.1 L345.5,234.1 L346.0,236.2 L346.5,238.2 L347.0,240.2 L347.5,242.1 L348.0,244.1 L348.5,246.1 L349.0,248.0 L349.5,249.9 L350.0,251.8 L350.5,253.7 L351.0,255.6 L351.5,257.5 L352.0,259.3 L352.5,261.1 L353.0,262.9 L353.5,264.7 L354.0,266.5 L354.5,268.2 L355.0,270.0 L355.5,271.7 L356.0,273.3 L356.5,275.0 L357.0,276.6 L357.5,278.2 L358.0,279.8 L358.5,281.4 L359.0,282.9 L359.5,284.4 L360.0,285.9 L360.5,287.4 L361.0,288.8 L361.5,290.2 L362.0,291.6 L362.5,292.9 L363.0,294.2 L363.5,295.5 L364.0,296.8 L364.5,298.0 L365.0,299.2 L365.5,300.4 L366.0,301.6 L366.5,302.7 L367.0,303.8 L367.5,304.8 L368.0,305.9 L368.5,306.9 L369.0,307.9 L369.5,308.9 L370.0,309.8 L370.5,310.8 L371.0,311.7 L371.5,312.6 L372.0,313.4 L372.5,314.3 L373.0,315.1 L373.5,315.9 L374.0,316.7 L374.5,317.5 L375.0,318.2 L375.5,318.9 L376.0,319.6 L376.5,320.3 L377.0,321.0 L377.5,321.7 L378.0,322.3 L378.5,322.9 L379.0,323.6 L379.5,324.2 L380.0,324.7 L380.5,325.3 L381.0,325.9 L381.5,326.4 L382.0,326.9 L382.5,327.5 L383.0,328.0 L383.5,328.5 L384.0,329.0 L384.5,329.4 L385.0,329.9 L385.5,330.4 L386.0,330.8 L386.5,331.3 L387.0,331.7 L387.5,332.1 L388.0,332.5 L388.5,332.9 L389.0,333.3 L389.5,333.7 L390.0,334.1 L390.5,334.5 L391.0,334.9 L391.5,335.2 L392.0,335.6 L392.5,336.0 L393.0,336.3 L393.5,336.6 L394.0,337.0 L394.5,337.3 L395.0,337.6 L395.5,337.9 L396.0,338.2 L396.5,338.5 L397.0,338.8 L397.5,339.0 L398.0,339.3 L398.5,339.6 L399.0,339.8 L399.5,340.1 L400.0,340.3 L400.5,340.5 L401.0,340.8 L401.5,341.0 L402.0,341.2 L402.5,341.4 L403.0,341.6 L403.5,341.8 L404.0,342.0 L404.5,342.1 L405.0,342.3 L405.5,342.5 L406.0,342.6 L406.5,342.7 L407.0,342.9 L407.5,343.0 L408.0,343.1 L408.5,343.2 L409.0,343.3 L409.5,343.4 L410.0,343.5 L410.5,343.6 L411.0,343.7 L411.5,343.8 L412.0,343.8 L412.5,344.0 L528.0,344.0" fill="none" stroke="#0f0" stroke-width="2" stroke-linejoin="round"/>
<path d="M71.6,344.0 L146.0,344.0 L146.0,343.9 L146.5,343.8 L147.0,343.8 L147.5,343.7 L148.0,343.6 L148.5,343.6 L149.0,343.5 L149.5,343.4 L150.0,343.3 L150.5,343.2 L151.0,343.1 L151.5,343.0 L152.0,342.9 L152.5,342.7 L153.0,342.6 L153.5,342.5 L154.0,342.3 L154.5,342.2 L155.0,342.0 L155.5,341.9 L156.0,341.7 L156.5,341.6 L157.0,341.4 L157.5,341.2 L158.0,341.0 L158.5,340.9 L159.0,340.7 L159.5,340.5 L160.0,340.3 L160.5,340.1 L161.0,339.9 L161.5,339.7 L162.0,339.5 L162.5,339.3 L163.0,339.1 L163.5,338.9 L164.0,338.7 L164.5,338.5 L165.0,338.3 L165.5,338.1 L166.0,337.9 L166.5,337.7 L167.0,337.5 L167.5,337.3 L168.0,337.1 L168.5,336.9 L169.0,336.6 L169.5,336.4 L170.0,336.2 L170.5,336.0 L171.0,335.8 L171.5,335.5 L172.0,335.3 L172.5,335.1 L173.0,334.8 L173.5,334.6 L174.0,334.4 L174.5,334.1 L175.0,333.9 L175.5,333.6 L176.0,333.4 L176.5,333.1 L177.0,332.9 L177.5,332.6 L178.0,332.4 L178.5,332.1 L179.0,331.8 L179.5,331.6 L180.0,331.3 L180.5,331.0 L181.0,330.7 L181.5,330.5 L182.0,330.2 L182.5,329.9 L183.0,329.6 L183.5,329.3 L184.0,329.0 L184.5,328.7 L185.0,328.4 L185.5,328.1 L186.0,327.7 L186.5,327.4 L187.0,327.1 L187.5,326.7 L188.0,326.4 L188.5,326.1 L189.0,325.7 L189.5,325.4 L190.0,325.0 L190.5,324.6 L191.0,324.3 L191.5,323.9 L192.0,323.5 L192.5,323.1 L193.0,322.8 L193.5,322.4 L194.0,322.0 L194.5,321.6 L195.0,321.2 L195.5,320.7 L196.0,320.3 L196.5,319.9 L197.0,319.5 L197.5,319.0 L198.0,318.6 L198.5,318.1 L199.0,317.7 L199.5,317.2 L200.0,316.7 L200.5,316.2 L201.0,315.7 L201.5,315.3 L202.0,314.8 L202.5,314.3 L203.0,313.7 L203.5,313.2 L204.0,312.7 L204.5,312.2 L205.0,311.6 L205.5,311.1 L206.0,310.5 L206.5,309.9 L207.0,309.4 L207.5,308.8 L208.0,308.2 L208.5,307.6 L209.0,307.0 L209.5,306.4 L210.0,305.8 L210.5,305.1 L211.0,304.5 L211.5,303.8 L212.0,303.2 L212.5,302.5 L213.0,301.8 L213.5,301.2 L214.0,300.5 L214.5,299.8 L215.0,299.1 L215.5,298.3 L216.0,297.6 L216.5,296.9 L217.0,296.1 L217.5,295.4 L218.0,294.6 L218.5,293.8 L219.0,293.1 L219.5,292.3 L220.0,291.5 L220.5,290.7 L221.0,289.8 L221.5,289.0 L222.0,288.2 L222.5,287.3 L223.0,286.5 L223.5,285.6 L224.0,284.7 L224.5,283.8 L225.0,282.9 L225.5,282.0 L226.0,281.1 L226.5,280.2 L227.0,279.2 L227.5,278.3 L228.0,277.4 L228.5,276.4 L229.0,275.4 L229.5,274.4 L230.0,273.4 L230.5,272.4 L231.0,271.4 L231.5,270.4 L232.0,269.4 L232.5,268.3 L233.0,267.3 L233.5,266.2 L234.0,265.2 L234.5,264.1 L235.0,263.0 L235.5,261.9 L236.0,260.8 L236.5,259.6 L237.0,258.5 L237.5,257.4 L238.0,256.2 L238.5,255.0 L239.0,253.9 L239.5,252.7 L240.0,251.5 L240.5,250.2 L241.0,249.0 L241.5,247.8 L242.0,246.5 L242.5,245.3 L243.0,244.0 L243.5,242.7 L244.0,241.4 L244.5,240.1 L245.0,238.8 L245.5,237.4 L246.0,236.1 L246.5,234.7 L247.0,233.3 L247.5,231.9 L248.0,230.5 L248.5,229.1 L249.0,227.7 L249.5,226.2 L250.0,224.8 L250.5,223.3 L251.0,221.8 L251.5,220.3 L252.0,218.8 L252.5,217.2 L253.0,215.7 L253.5,214.1 L254.0,212.5 L254.5,211.0 L255.0,209.3 L255.5,207.7 L256.0,206.1 L256.5,204.4 L257.0,202.8 L257.5,201.1 L258.0,199.4 L258.5,197.7 L259.0,196.0 L259.5,194.3 L260.0,192.6 L260.5,190.9 L261.0,189.2 L261.5,187.4 L262.0,185.7 L262.5,183.9 L263.0,182.1 L263.5,180.4 L264.0,178.6 L264.5,176.8 L265.0,175.1 L265.5,173.3 L266.0,171.5 L266.5,169.7 L267.0,167.9 L267.5,166.1 L268.0,164.3 L268.5,162.5 L269.0,160.7 L269.5,159.0 L270.0,157.2 L270.5,155.4 L271.0,153.6 L271.5,151.8 L272.0,150.0 L272.5,148.3 L273.0,146.5 L273.5,144.7 L274.0,143.0 L274.5,141.2 L275.0,139.5 L275.5,137.7 L276.0,136.0 L276.5,134.3 L277.0,132.5 L277.5,130.8 L278.0,129.1 L278.5,127.5 L279.0,125.8 L279.5,124.1 L280.0,122.5 L280.5,120.8 L281.0,119.2 L281.5,117.6 L282.0,116.0 L282.5,114.4 L283.0,112.8 L283.5,111.2 L284.0,109.7 L284.5,108.2 L285.0,106.7 L285.5,105.2 L286.0,103.7 L286.5,102.2 L287.0,100.8 L287.5,99.4 L288.0,98.0 L288.5,96.6 L289.0,95.3 L289.5,93.9 L290.0,92.6 L290.5,91.3 L291.0,90.0 L291.5,88.8 L292.0,87.6 L292.5,86.4 L293.0,85.2 L293.5,84.1 L294.0,82.9 L294.5,81.9 L295.0,80.8 L295.5,79.8 L296.0,78.7 L296.5,77.8 L297.0,76.8 L297.5,75.9 L298.0,75.0 L298.5,74.1 L299.0,73.3 L299.5,72.5 L300.0,71.7 L300.5,71.0 L301.0,70.3 L301.5,69.6 L302.0,69.0 L302.5,68.4 L303.0,67.8 L303.5,67.2 L304.0,66.7 L304.5,66.2 L305.0,65.8 L305.5,65.4 L306.0,65.0 L306.5,64.6 L307.0,64.3 L307.5,64.0 L308.0,63.8 L308.5,63.6 L309.0,63.4 L309.5,63.3 L310.0,63.1 L310.5,63.1 L311.0,63.0 L311.5,63.0 L312.0,63.0 L312.5,63.1 L313.0,63.2 L313.5,63.3 L314.0,63.5 L314.5,63.7 L315.0,63.9 L315.5,64.2 L316.0,64.5 L316.5,64.8 L317.0,65.2 L317.5,65.6 L318.0,66.0 L318.5,66.5 L319.0,67.0 L319.5,67.6 L320.0,68.2 L320.5,68.8 L321.0,69.5 L321.5,70.2 L322.0,70.9 L322.5,71.7 L323.0,72.5 L323.5,73.4 L324.0,74.3 L324.5,75.2 L325.0,76.2 L325.5,77.2 L326.0,78.2 L326.5,79.3 L327.0,80.4 L327.5,81.6 L328.0,82.8 L328.5,84.0 L329.0,85.3 L329.5,86.6 L330.0,87.9 L330.5,89.3 L331.0,90.8 L331.5,92.2 L332.0,93.7 L332.5,95.3 L333.0,96.9 L333.5,98.5 L334.0,100.2 L334.5,101.8 L335.0,103.6 L335.5,105.3 L336.0,107.1 L336.5,109.0 L337.0,110.8 L337.5,112.7 L338.0,114.6 L338.5,116.5 L339.0,118.5 L339.5,120.5 L340.0,122.5 L340.5,124.5 L341.0,126.6 L341.5,128.7 L342.0,130.8 L342.5,132.9 L343.0,135.1 L343.5,137.2 L344.0,139.4 L344.5,141.6 L345.0,143.8 L345.5,146.0 L346.0,148.2 L346.5,150.5 L347.0,152.7 L347.5,155.0 L348.0,157.2 L348.5,159.5 L349.0,161.8 L349.5,164.1 L350.0,166.4 L350.5,168.7 L351.0,171.0 L351.5,173.3 L352.0,175.6 L352.5,177.9 L353.0,180.2 L353.5,182.5 L354.0,184.8 L354.5,187.1 L355.0,189.4 L355.5,191.7 L356.0,194.0 L356.5,196.2 L357.0,198.5 L357.5,200.8 L358.0,203.0 L358.5,205.3 L359.0,207.5 L359.5,209.8 L360.0,212.0 L360.5,214.2 L361.0,216.4 L361.5,218.6 L362.0,220.8 L362.5,223.0 L363.0,225.1 L363.5,227.3 L364.0,229.4 L364.5,231.5 L365.0,233.6 L365.5,235.7 L366.0,237.8 L366.5,239.9 L367.0,241.9 L367.5,243.9 L368.0,245.9 L368.5,247.9 L369.0,249.9 L369.5,251.8 L370.0,253.8 L370.5,255.7 L371.0,257.6 L371.5,259.4 L372.0,261.3 L372.5,263.1 L373.0,264.9 L373.5,266.7 L374.0,268.4 L374.5,270.2 L375.0,271.9 L375.5,273.5 L376.0,275.2 L376.5,276.8 L377.0,278.4 L377.5,280.0 L378.0,281.5 L378.5,283.0 L379.0,284.5 L379.5,285.9 L380.0,287.4 L380.5,288.8 L381.0,290.1 L381.5,291.5 L382.0,292.8 L382.5,294.1 L383.0,295.3 L383.5,296.6 L384.0,297.8 L384.5,299.0 L385.0,300.1 L385.5,301.3 L386.0,302.4 L386.5,303.5 L387.0,304.5 L387.5,305.6 L388.0,306.6 L388.5,307.6 L389.0,308.6 L389.5,309.5 L390.0,310.5 L390.5,311.4 L391.0,312.3 L391.5,313.2 L392.0,314.0 L392.5,314.9 L393.0,315.7 L393.5,316.5 L394.0,317.3 L394.5,318.0 L395.0,318.8 L395.5,319.5 L396.0,320.2 L396.5,320.9 L397.0,321.6 L397.5,322.3 L398.0,323.0 L398.5,323.6 L399.0,324.3 L399.5,324.9 L400.0,325.5 L400.5,326.1 L401.0,326.7 L401.5,327.2 L402.0,327.8 L402.5,328.3 L403.0,328.9 L403.5,329.4 L404.0,329.9 L404.5,330.4 L405.0,330.9 L405.5,331.4 L406.0,331.9 L406.5,332.4 L407.0,332.8 L407.5,333.3 L408.0,333.8 L408.5,334.2 L409.0,334.7 L409.5,335.1 L410.0,335.5 L410.5,335.9 L411.0,336.3 L411.5,336.7 L412.0,337.1 L412.5,337.5 L413.0,337.9 L413.5,338.3 L414.0,338.6 L414.5,339.0 L415.0,339.3 L415.5,339.7 L416.0,340.0 L416.5,340.3 L417.0,340.6 L417.5,340.9 L418.0,341.1 L418.5,341.4 L419.0,341.7 L419.5,341.9 L420.0,342.1 L420.5,342.3 L421.0,342.5 L421.5,342.7 L422.0,342.9 L422.5,343.1 L423.0,343.2 L423.5,343.4 L424.0,343.5 L424.5,343.6 L425.0,343.7 L425.5,343.8 L426.0,344.0 L528.0,344.0" fill="none" stroke="#0f0" stroke-width="2" stroke-linejoin="round" stroke-dasharray="9 8" stroke-dashoffset="2.11"/>
<path d="M71.6,344.0 L142.0,344.0 L142.0,343.9 L142.5,343.9 L143.0,343.8 L143.5,343.8 L144.0,343.8 L144.5,343.7 L145.0,343.7 L145.5,343.6 L146.0,343.6 L146.5,343.5 L147.0,343.4 L147.5,343.4 L148.0,343.3 L148.5,343.2 L149.0,343.2 L149.5,343.1 L150.0,343.0 L150.5,342.9 L151.0,342.9 L151.5,342.8 L152.0,342.7 L152.5,342.6 L153.0,342.5 L153.5,342.4 L154.0,342.3 L154.5,342.2 L155.0,342.1 L155.5,342.0 L156.0,341.9 L156.5,341.8 L157.0,341.7 L157.5,341.6 L158.0,341.5 L158.5,341.4 L159.0,341.2 L159.5,341.1 L160.0,341.0 L160.5,340.9 L161.0,340.8 L161.5,340.6 L162.0,340.5 L162.5,340.4 L163.0,340.2 L163.5,340.1 L164.0,340.0 L164.5,339.9 L165.0,339.7 L165.5,339.6 L166.0,339.4 L166.5,339.3 L167.0,339.2 L167.5,339.0 L168.0,338.9 L168.5,338.7 L169.0,338.6 L169.5,338.5 L170.0,338.3 L170.5,338.2 L171.0,338.0 L171.5,337.9 L172.0,337.7 L172.5,337.6 L173.0,337.4 L173.5,337.3 L174.0,337.1 L174.5,337.0 L175.0,336.8 L175.5,336.6 L176.0,336.5 L176.5,336.3 L177.0,336.1 L177.5,336.0 L178.0,335.8 L178.5,335.6 L179.0,335.5 L179.5,335.3 L180.0,335.1 L180.5,334.9 L181.0,334.7 L181.5,334.6 L182.0,334.4 L182.5,334.2 L183.0,334.0 L183.5,333.8 L184.0,333.6 L184.5,333.4 L185.0,333.2 L185.5,333.0 L186.0,332.8 L186.5,332.6 L187.0,332.3 L187.5,332.1 L188.0,331.9 L188.5,331.7 L189.0,331.4 L189.5,331.2 L190.0,331.0 L190.5,330.7 L191.0,330.5 L191.5,330.3 L192.0,330.0 L192.5,329.7 L193.0,329.5 L193.5,329.2 L194.0,329.0 L194.5,328.7 L195.0,328.4 L195.5,328.1 L196.0,327.9 L196.5,327.6 L197.0,327.3 L197.5,327.0 L198.0,326.7 L198.5,326.4 L199.0,326.1 L199.5,325.8 L200.0,325.5 L200.5,325.1 L201.0,324.8 L201.5,324.5 L202.0,324.2 L202.5,323.8 L203.0,323.5 L203.5,323.1 L204.0,322.8 L204.5,322.4 L205.0,322.0 L205.5,321.7 L206.0,321.3 L206.5,320.9 L207.0,320.5 L207.5,320.1 L208.0,319.7 L208.5,319.3 L209.0,318.9 L209.5,318.5 L210.0,318.1 L210.5,317.7 L211.0,317.2 L211.5,316.8 L212.0,316.4 L212.5,315.9 L213.0,315.5 L213.5,315.0 L214.0,314.5 L214.5,314.1 L215.0,313.6 L215.5,313.1 L216.0,312.6 L216.5,312.1 L217.0,311.6 L217.5,311.1 L218.0,310.6 L218.5,310.0 L219.0,309.5 L219.5,309.0 L220.0,308.4 L220.5,307.9 L221.0,307.3 L221.5,306.7 L222.0,306.2 L222.5,305.6 L223.0,305.0 L223.5,304.4 L224.0,303.8 L224.5,303.2 L225.0,302.6 L225.5,301.9 L226.0,301.3 L226.5,300.7 L227.0,300.0 L227.5,299.4 L228.0,298.7 L228.5,298.0 L229.0,297.3 L229.5,296.6 L230.0,295.9 L230.5,295.2 L231.0,294.5 L231.5,293.8 L232.0,293.1 L232.5,292.3 L233.0,291.6 L233.5,290.8 L234.0,290.0 L234.5,289.2 L235.0,288.4 L235.5,287.6 L236.0,286.8 L236.5,286.0 L237.0,285.1 L237.5,284.3 L238.0,283.4 L238.5,282.5 L239.0,281.6 L239.5,280.7 L240.0,279.8 L240.5,278.9 L241.0,277.9 L241.5,276.9 L242.0,276.0 L242.5,275.0 L243.0,274.0 L243.5,273.0 L244.0,271.9 L244.5,270.9 L245.0,269.8 L245.5,268.8 L246.0,267.7 L246.5,266.6 L247.0,265.5 L247.5,264.3 L248.0,263.2 L248.5,262.0 L249.0,260.8 L249.5,259.6 L250.0,258.4 L250.5,257.2 L251.0,255.9 L251.5,254.7 L252.0,253.4 L252.5,252.1 L253.0,250.8 L253.5,249.5 L254.0,248.2 L254.5,246.9 L255.0,245.5 L255.5,244.2 L256.0,242.8 L256.5,241.4 L257.0,240.0 L257.5,238.6 L258.0,237.2 L258.5,235.7 L259.0,234.3 L259.5,232.8 L260.0,231.3 L260.5,229.9 L261.0,228.4 L261.5,226.9 L262.0,225.3 L262.5,223.8 L263.0,222.3 L263.5,220.7 L264.0,219.2 L264.5,217.6 L265.0,216.0 L265.5,214.4 L266.0,212.8 L266.5,211.2 L267.0,209.6 L267.5,208.0 L268.0,206.3 L268.5,204.7 L269.0,203.1 L269.5,201.4 L270.0,199.7 L270.5,198.0 L271.0,196.4 L271.5,194.7 L272.0,193.0 L272.5,191.3 L273.0,189.5 L273.5,187.8 L274.0,186.1 L274.5,184.4 L275.0,182.6 L275.5,180.9 L276.0,179.2 L276.5,177.4 L277.0,175.7 L277.5,173.9 L278.0,172.2 L278.5,170.4 L279.0,168.7 L279.5,166.9 L280.0,165.2 L280.5,163.4 L281.0,161.7 L281.5,159.9 L282.0,158.2 L282.5,156.4 L283.0,154.7 L283.5,153.0 L284.0,151.2 L284.5,149.5 L285.0,147.8 L285.5,146.0 L286.0,144.3 L286.5,142.6 L287.0,140.9 L287.5,139.2 L288.0,137.5 L288.5,135.8 L289.0,134.2 L289.5,132.5 L290.0,130.9 L290.5,129.2 L291.0,127.6 L291.5,125.9 L292.0,124.3 L292.5,122.7 L293.0,121.1 L293.5,119.5 L294.0,118.0 L294.5,116.4 L295.0,114.9 L295.5,113.3 L296.0,111.8 L296.5,110.3 L297.0,108.8 L297.5,107.4 L298.0,105.9 L298.5,104.5 L299.0,103.1 L299.5,101.7 L300.0,100.3 L300.5,98.9 L301.0,97.6 L301.5,96.2 L302.0,94.9 L302.5,93.6 L303.0,92.4 L303.5,91.1 L304.0,89.9 L304.5,88.7 L305.0,87.5 L305.5,86.3 L306.0,85.2 L306.5,84.1 L307.0,83.0 L307.5,81.9 L308.0,80.9 L308.5,79.9 L309.0,78.9 L309.5,77.9 L310.0,77.0 L310.5,76.1 L311.0,75.2 L311.5,74.3 L312.0,73.5 L312.5,72.7 L313.0,71.9 L313.5,71.2 L314.0,70.5 L314.5,69.8 L315.0,69.2 L315.5,68.5 L316.0,67.9 L316.5,67.4 L317.0,66.9 L317.5,66.4 L318.0,65.9 L318.5,65.5 L319.0,65.1 L319.5,64.7 L320.0,64.4 L320.5,64.1 L321.0,63.8 L321.5,63.6 L322.0,63.4 L322.5,63.3 L323.0,63.1 L323.5,63.1 L324.0,63.0 L324.5,63.0 L325.0,63.0 L325.5,63.1 L326.0,63.2 L326.5,63.3 L327.0,63.5 L327.5,63.7 L328.0,64.0 L328.5,64.3 L329.0,64.6 L329.5,65.0 L330.0,65.4 L330.5,65.8 L331.0,66.3 L331.5,66.8 L332.0,67.4 L332.5,68.0 L333.0,68.7 L333.5,69.4 L334.0,70.1 L334.5,70.9 L335.0,71.7 L335.5,72.6 L336.0,73.5 L336.5,74.5 L337.0,75.5 L337.5,76.5 L338.0,77.6 L338.5,78.8 L339.0,79.9 L339.5,81.2 L340.0,82.4 L340.5,83.8 L341.0,85.1 L341.5,86.5 L342.0,88.0 L342.5,89.5 L343.0,91.0 L343.5,92.6 L344.0,94.2 L344.5,95.8 L345.0,97.5 L345.5,99.2 L346.0,101.0 L346.5,102.8 L347.0,104.6 L347.5,106.4 L348.0,108.3 L348.5,110.2 L349.0,112.2 L349.5,114.1 L350.0,116.1 L350.5,118.1 L351.0,120.1 L351.5,122.2 L352.0,124.3 L352.5,126.4 L353.0,128.5 L353.5,130.6 L354.0,132.8 L354.5,134.9 L355.0,137.1 L355.5,139.3 L356.0,141.5 L356.5,143.8 L357.0,146.0 L357.5,148.3 L358.0,150.5 L358.5,152.8 L359.0,155.1 L359.5,157.3 L360.0,159.6 L360.5,161.9 L361.0,164.2 L361.5,166.5 L362.0,168.8 L362.5,171.1 L363.0,173.4 L363.5,175.7 L364.0,178.1 L364.5,180.4 L365.0,182.7 L365.5,185.0 L366.0,187.3 L366.5,189.5 L367.0,191.8 L367.5,194.1 L368.0,196.4 L368.5,198.6 L369.0,200.9 L369.5,203.1 L370.0,205.3 L370.5,207.6 L371.0,209.8 L371.5,211.9 L372.0,214.1 L372.5,216.3 L373.0,218.5 L373.5,220.6 L374.0,222.7 L374.5,224.8 L375.0,226.9 L375.5,229.0 L376.0,231.1 L376.5,233.1 L377.0,235.2 L377.5,237.2 L378.0,239.2 L378.5,241.2 L379.0,243.1 L379.5,245.1 L380.0,247.0 L380.5,248.9 L381.0,250.8 L381.5,252.7 L382.0,254.5 L382.5,256.4 L383.0,258.2 L383.5,260.0 L384.0,261.7 L384.5,263.5 L385.0,265.2 L385.5,266.9 L386.0,268.5 L386.5,270.2 L387.0,271.8 L387.5,273.4 L388.0,275.0 L388.5,276.5 L389.0,278.0 L389.5,279.5 L390.0,281.0 L390.5,282.5 L391.0,283.9 L391.5,285.3 L392.0,286.6 L392.5,288.0 L393.0,289.3 L393.5,290.6 L394.0,291.9 L394.5,293.2 L395.0,294.4 L395.5,295.6 L396.0,296.8 L396.5,298.0 L397.0,299.1 L397.5,300.2 L398.0,301.3 L398.5,302.4 L399.0,303.5 L399.5,304.5 L400.0,305.6 L400.5,306.6 L401.0,307.6 L401.5,308.5 L402.0,309.5 L402.5,310.4 L403.0,311.3 L403.5,312.2 L404.0,313.1 L404.5,313.9 L405.0,314.8 L405.5,315.6 L406.0,316.4 L406.5,317.2 L407.0,318.0 L407.5,318.7 L408.0,319.4 L408.5,320.2 L409.0,320.9 L409.5,321.6 L410.0,322.2 L410.5,322.9 L411.0,323.5 L411.5,324.2 L412.0,324.8 L412.5,325.4 L413.0,326.0 L413.5,326.6 L414.0,327.1 L414.5,327.7 L415.0,328.2 L415.5,328.7 L416.0,329.2 L416.5,329.7 L417.0,330.2 L417.5,330.7 L418.0,331.2 L418.5,331.6 L419.0,332.1 L419.5,332.5 L420.0,332.9 L420.5,333.3 L421.0,333.7 L421.5,334.1 L422.0,334.5 L422.5,334.9 L423.0,335.3 L423.5,335.6 L424.0,336.0 L424.5,336.3 L425.0,336.6 L425.5,336.9 L426.0,337.3 L426.5,337.6 L427.0,337.9 L427.5,338.1 L428.0,338.4 L428.5,338.7 L429.0,339.0 L429.5,339.2 L430.0,339.5 L430.5,339.7 L431.0,339.9 L431.5,340.2 L432.0,340.4 L432.5,340.6 L433.0,340.8 L433.5,341.0 L434.0,341.2 L434.5,341.4 L435.0,341.5 L435.5,341.7 L436.0,341.9 L436.5,342.0 L437.0,342.2 L437.5,342.3 L438.0,342.5 L438.5,342.6 L439.0,342.7 L439.5,342.8 L440.0,342.9 L440.5,343.0 L441.0,343.1 L441.5,343.2 L442.0,343.3 L442.5,343.4 L443.0,343.5 L443.5,343.6 L444.0,343.6 L444.5,343.7 L445.0,343.7 L445.5,343.8 L446.0,343.8 L446.5,343.9 L447.0,344.0 L528.0,344.0" fill="none" stroke="#f00" stroke-width="2" stroke-linejoin="round"/>
<text x="62" y="349.1" font-size="18" text-anchor="end">0.0</text>
<text x="62" y="292.9" font-size="18" text-anchor="end">0.2</text>
<text x="62" y="236.7" font-size="18" text-anchor="end">0.4</text>
<text x="62" y="180.4" font-size="18" text-anchor="end">0.6</text>
<text x="62" y="124.2" font-size="18" text-anchor="end">0.8</text>
<text x="62" y="68.0" font-size="18" text-anchor="end">1.0</text>
<text x="70.8" y="393.5" font-size="18" text-anchor="middle">3.0</text>
<text x="162.4" y="393.5" font-size="18" text-anchor="middle">3.5</text>
<text x="254.0" y="393.5" font-size="18" text-anchor="middle">4.0</text>
<text x="345.6" y="393.5" font-size="18" text-anchor="middle">4.5</text>
<text x="437.2" y="393.5" font-size="18" text-anchor="middle">5.0</text>
<text x="527.9" y="393.5" font-size="18" text-anchor="middle">5.5</text>
<text x="275" y="416.4" font-size="19.5">log <tspan font-style="italic" dx="1.5">M</tspan></text>
<text transform="translate(24.4,219.6) rotate(-90)" font-size="19.5"><tspan font-size="17">ω</tspan> (log <tspan font-style="italic" dx="2.3">M</tspan><tspan dx="0.5">)</tspan></text>
<line x1="162" y1="35.4" x2="356" y2="35.4" stroke="#000" stroke-width="1.5"/>
<path d="M354.3,32.2 L364.3,35.3 L354.3,38.2 Z" fill="#000"/>
<text x="276.3" y="30.2" font-size="18.7" text-anchor="middle">+VDF</text>
<text x="175.5" y="57.5" font-size="18"><tspan font-style="italic">D</tspan>: 1.18</text>
<line x1="241.6" y1="53.2" x2="316" y2="53.2" stroke="#000" stroke-width="1.6" stroke-dasharray="5.2 6.2"/>
<text x="321.8" y="57.8" font-size="18" style="fill:#f00;stroke:#f00">1.41</text>
<rect x="438.6" y="9.5" width="90.4" height="189.8" fill="#fff" stroke="#555" stroke-width="1.1"/>
<line x1="529" y1="8.6" x2="529" y2="373" stroke="#000" stroke-width="2"/>
<line x1="437.7" y1="9.5" x2="530" y2="9.5" stroke="#000" stroke-width="1.9"/>
<text x="456.8" y="27.8" font-size="18"><tspan font-style="italic">m</tspan><tspan font-size="11" dy="7">VDF</tspan><tspan dy="-7"> / g</tspan></text>
<line x1="440" y1="50.3" x2="484" y2="50.3" stroke="#000" stroke-width="2"/>
<text x="493.2" y="55.7" font-size="18">10</text>
<line x1="440" y1="73.1" x2="484" y2="73.1" stroke="#000" stroke-width="2" stroke-dasharray="9.2 8.2"/>
<text x="493.2" y="78.4" font-size="18">20</text>
<line x1="440" y1="95.9" x2="484" y2="95.9" stroke="#00f" stroke-width="2"/>
<text x="493.2" y="101.2" font-size="18">30</text>
<line x1="440" y1="118.7" x2="484" y2="118.7" stroke="#00f" stroke-width="2" stroke-dasharray="9.2 8.2"/>
<text x="493.2" y="123.9" font-size="18">40</text>
<line x1="440" y1="141.5" x2="484" y2="141.5" stroke="#0f0" stroke-width="2"/>
<text x="493.2" y="146.6" font-size="18">60</text>
<line x1="440" y1="164.3" x2="484" y2="164.3" stroke="#0f0" stroke-width="2" stroke-dasharray="9.2 8.2"/>
<text x="493.2" y="169.4" font-size="18">80</text>
<line x1="440" y1="187.1" x2="484" y2="187.1" stroke="#f00" stroke-width="2"/>
<text x="488" y="192.1" font-size="18">100</text>
</svg></body></html>
